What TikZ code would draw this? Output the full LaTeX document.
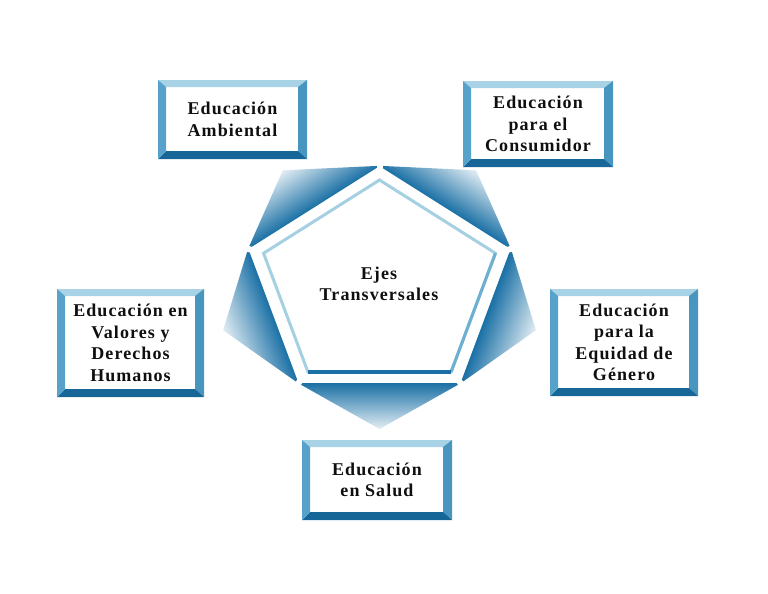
\documentclass[tikz,border=0pt]{standalone}
\usepackage{fontspec}
\setmainfont{Liberation Serif}
\newfontfamily\ejefont[LetterSpace=6]{Liberation Serif}
\usetikzlibrary{positioning,calc}

\definecolor{ejeblue}{RGB}{26,112,165}
\definecolor{bevtop}{RGB}{168,210,230}
\definecolor{bevleft}{RGB}{86,162,202}
\definecolor{bevright}{RGB}{72,150,192}
\definecolor{bevbottom}{RGB}{22,102,152}
\definecolor{penlight}{RGB}{165,208,226}
\definecolor{penmid}{RGB}{110,176,208}
\definecolor{ejetext}{RGB}{15,15,15}

\tikzset{
  ejetxt/.style={text=ejetext, align=center, font=\ejefont\bfseries\fontsize{18}{21.5}\selectfont},
  ejebox/.style={ejetxt, fill=white, inner sep=0pt,
    path picture={
      \coordinate (nw) at (path picture bounding box.north west);
      \coordinate (ne) at (path picture bounding box.north east);
      \coordinate (se) at (path picture bounding box.south east);
      \coordinate (sw) at (path picture bounding box.south west);
      \coordinate (inw) at ($(nw)+(8pt,-7pt)$);
      \coordinate (ine) at ($(ne)+(-9pt,-7pt)$);
      \coordinate (ise) at ($(se)+(-9pt,8pt)$);
      \coordinate (isw) at ($(sw)+(8pt,8pt)$);
      \fill[bevtop] (nw) -- (ne) -- (ine) -- (inw) -- cycle;
      \fill[bevright] (ne) -- (se) -- (ise) -- (ine) -- cycle;
      \fill[bevbottom] (se) -- (sw) -- (isw) -- (ise) -- cycle;
      \fill[bevleft] (sw) -- (nw) -- (inw) -- (isw) -- cycle;
    }}
}

\begin{document}
\begin{tikzpicture}[x=1pt,y=-1pt]
    \useasboundingbox (0,0) rectangle (768,594);
    % Draw arrows round the pentagon
    \foreach \a [evaluate=\a as \rot using \a-270] in {126,54,342,270,198} {
      \begin{scope}[transform canvas={shift={(379.5,286)},xscale=1.15,rotate=\rot}]
        \shade[top color=ejeblue, middle color=ejeblue!80, bottom color=ejeblue!12]
          (-71,97) -- (0,143) -- (71,97) -- cycle;
      \end{scope}
    }
    \begin{scope}[shift={(379.5,286)},xscale=1.15,yscale=-1]
      \foreach \a in {90,18,306,234,162}
        \draw[white,line width=6pt] (\a:104) -- (\a:128);
      \draw[penlight,line width=3pt] (90:106) -- (162:106) -- (234:106) -- (306:106) -- (18:106) -- cycle;
      \draw[penmid,line width=3pt] (306:106) -- (18:106);
      \draw[ejeblue,line width=3.5pt] (234:106) -- (306:106);
    \end{scope}

    % Define nodes
    \node[ejetxt] (ejes) at (379,284) {Ejes\\Transversales};
    \node[ejebox, minimum width=149pt, minimum height=79pt] (amb) at (232.5,119.5) {Educación\\Ambiental};
    \node[ejebox, minimum width=150pt, minimum height=86pt] (cons) at (538,124) {Educación\\para el\\Consumidor};
    \node[ejebox, minimum width=148pt, minimum height=107pt] (gen) at (624,342.5) {Educación\\para la\\Equidad de\\Género};
    \node[ejebox, minimum width=150pt, minimum height=80pt] (salud) at (377,480) {Educación\\en Salud};
    \node[ejebox, minimum width=147pt, minimum height=108pt] (val) at (130.5,343) {Educación en\\Valores y\\Derechos\\Humanos};
\end{tikzpicture}
\end{document}
